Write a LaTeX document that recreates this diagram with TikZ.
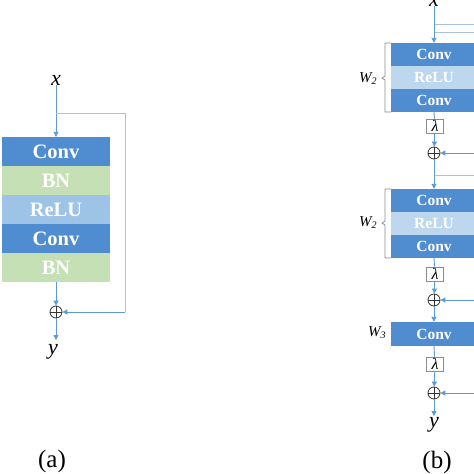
\documentclass[tikz,border=0pt]{standalone}
\usepackage{fontspec}
\setmainfont{Liberation Serif}
\usetikzlibrary{arrows.meta}
\definecolor{convc}{HTML}{4F8DD0}
\definecolor{reluA}{HTML}{9DC3E6}
\definecolor{reluB}{HTML}{BDD7EE}
\definecolor{bnc}{HTML}{C5E0B4}
\definecolor{arrc}{HTML}{5B9BD5}
\definecolor{skipc}{HTML}{A9C4E0}
\definecolor{graybr}{HTML}{8C8C8C}
\tikzset{
  blkA/.style={rectangle, inner sep=0pt, minimum width=108pt, minimum height=29pt, text=white, font=\fontsize{20.5}{20.5}\selectfont\bfseries},
  blkB/.style={rectangle, inner sep=0pt, minimum width=86pt, minimum height=23pt, text=white, font=\fontsize{15.5}{15.5}\selectfont\bfseries},
  arr/.style={draw=arrc, line width=0.9pt, -{Triangle[width=5pt,length=5pt]}},
  ln/.style={draw=arrc, line width=0.9pt},
  skipln/.style={draw=skipc, line width=1pt},
  sumnode/.style={circle, draw=black!80, line width=0.8pt, minimum size=12pt, inner sep=0pt,
    path picture={\draw[black!80, line width=0.8pt] (path picture bounding box.north) -- (path picture bounding box.south) (path picture bounding box.west) -- (path picture bounding box.east);}},
  lam/.style={rectangle, draw=graybr, line width=0.7pt, minimum width=17pt, minimum height=14pt, inner sep=0pt, font=\fontsize{16}{16}\selectfont\itshape},
  lbl/.style={inner sep=0pt, font=\fontsize{22}{22}\selectfont\itshape},
  wlbl/.style={inner sep=0pt, font=\fontsize{15}{15}\selectfont\itshape},
  captext/.style={inner sep=0pt, font=\fontsize{25}{25}\selectfont},
  brk/.style={draw=graybr, line width=0.7pt}
}
\begin{document}
\begin{tikzpicture}[x=1pt,y=-1pt]
\useasboundingbox (0,0) rectangle (474,474);
\clip (0,0) rectangle (474,474);
\fill[white] (0,0) rectangle (474,474);
% ---------- panel (a) ----------
\node[lbl] (xa) at (56,80) {x};
\node[blkA, fill=convc] (a1) at (56,151.5) {Conv};
\node[blkA, fill=bnc]   (a2) at (56,180.5) {BN};
\node[blkA, fill=reluA] (a3) at (56,209.5) {ReLU};
\node[blkA, fill=convc] (a4) at (56,238.5) {Conv};
\node[blkA, fill=bnc]   (a5) at (56,267.5) {BN};
\node[sumnode] (sa) at (56,312) {};
\node[lbl] (ya) at (53,352) {y};
\coordinate (ba) at (56,113);
\coordinate (ca) at (125,312);
\draw[arr] (xa) -- (a1.north);
\draw[skipln] (ba) -| (ca);
\draw[arr] (ca) -- (sa);
\draw[arr] (a5.south) -- (sa);
\draw[arr] (sa) -- (56,340) coordinate (ea);
\node[captext] (capa) at (52,461) {(a)};
% ---------- panel (b) ----------
\node[lbl] (xb) at (434,1) {x};
\coordinate (t1) at (434,24);
\coordinate (t2) at (434,32);
\coordinate (r1) at (480,24);
\coordinate (r2) at (480,32);
\draw[skipln] (t1) -- (r1);
\draw[skipln] (t2) -- (r2);
\node[blkB, fill=convc] (b1) at (434,54.5) {Conv};
\node[blkB, fill=reluB] (b2) at (434,77.5) {ReLU};
\node[blkB, fill=convc] (b3) at (434,100.5) {Conv};
\draw[arr] (xb) -- (b1.north);
\node[lam] (l1) at (435,126) {λ};
\node[sumnode] (s1) at (434,153) {};
\coordinate (i1) at (480,153);
\draw[ln] (b3.south) -- (l1);
\draw[arr] (l1) -- (s1);
\draw[arr] (i1) -- (s1);
\draw[brk] (391,43) -- (385,43) -- (385,76) -- (382,78) -- (385,80) -- (385,112) -- (391,112);
\node[wlbl] (w1) at (368,79) {W\textsubscript{\fontsize{10}{10}\selectfont 2}};
% block 2
\coordinate (t3) at (434,175);
\coordinate (r3) at (480,175);
\draw[skipln] (t3) -- (r3);
\node[blkB, fill=convc] (b4) at (434,200.5) {Conv};
\node[blkB, fill=reluB] (b5) at (434,223.5) {ReLU};
\node[blkB, fill=convc] (b6) at (434,246.5) {Conv};
\draw[arr] (s1) -- (b4.north);
\node[lam] (l2) at (435,274) {λ};
\node[sumnode] (s2) at (434,300) {};
\coordinate (i2) at (480,300);
\draw[ln] (b6.south) -- (l2);
\draw[arr] (l2) -- (s2);
\draw[arr] (i2) -- (s2);
\draw[brk] (391,189) -- (385,189) -- (385,221) -- (382,223) -- (385,225) -- (385,258) -- (391,258);
\node[wlbl] (w2) at (368,223) {W\textsubscript{\fontsize{10}{10}\selectfont 2}};
% block 3
\node[blkB, fill=convc, minimum height=24pt] (b7) at (434,334) {Conv};
\draw[arr] (s2) -- (b7.north);
\node[wlbl] (w3) at (377,333) {W\textsubscript{\fontsize{10}{10}\selectfont 3}};
\node[lam] (l3) at (435,364) {λ};
\node[sumnode] (s3) at (434,393) {};
\coordinate (i3) at (480,393);
\draw[ln] (b7.south) -- (l3);
\draw[arr] (l3) -- (s3);
\draw[arr] (i3) -- (s3);
\draw[arr] (s3) -- (434,416) coordinate (eb);
\node[lbl] (yb) at (434,425) {y};
\node[captext] (capb) at (437,462) {(b)};
\end{tikzpicture}
\end{document}
